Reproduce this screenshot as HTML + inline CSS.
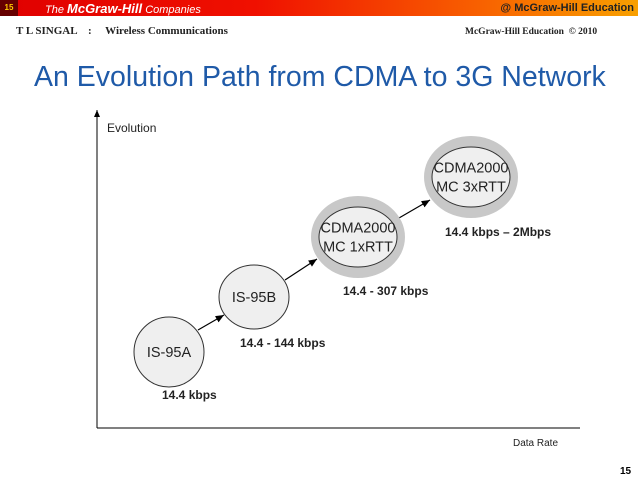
<!DOCTYPE html>
<html><head><meta charset="utf-8"><style>
body{margin:0;width:638px;height:478px;overflow:hidden;background:#fff;font-family:"Liberation Sans",sans-serif;position:relative}
.abs{position:absolute;white-space:nowrap}
</style></head><body>
<div class="abs" style="left:0;top:0;width:638px;height:16px;background:linear-gradient(90deg,#e00000 0%,#f01000 40%,#f86000 75%,#f8a000 100%)"></div>
<div class="abs" style="left:0;top:0;width:18px;height:16px;background:#600;color:#fc0;font-size:8px;line-height:16px;text-align:center;font-weight:bold">15</div>
<div class="abs" style="left:45px;top:1px;color:#fff;font-size:11px;font-style:italic">The <b style="font-size:13px">McGraw-Hill</b> Companies</div>
<div class="abs" style="right:4px;top:2px;color:#222;font-size:11px;font-weight:bold">@ McGraw-Hill Education</div>
<div class="abs" style="left:16px;top:25px;font-family:'Liberation Serif',serif;font-size:11px;font-weight:bold;color:#222">T L SINGAL &nbsp;&nbsp; : &nbsp;&nbsp;&nbsp; Wireless Communications</div>
<div class="abs" style="left:465px;top:27px;font-family:'Liberation Serif',serif;font-size:9.5px;font-weight:bold;color:#222">McGraw-Hill Education &nbsp;© 2010</div>
<div class="abs" style="left:34px;top:61px;font-size:28.5px;color:#1f5aa8">An Evolution Path from CDMA to 3G Network</div>
<div class="abs" style="left:620px;top:466px;font-size:10px;font-weight:bold">15</div>
<svg class="abs" style="left:0;top:0" width="638" height="478">
<defs><marker id="ah" markerWidth="8" markerHeight="8" refX="7" refY="4" orient="auto"><path d="M0,1 L7,4 L0,7z" fill="#000"/></marker></defs>
<line x1="97" y1="428" x2="97" y2="110" stroke="#000" stroke-width="1" marker-end="url(#ah)"/>
<line x1="97" y1="428" x2="580" y2="428" stroke="#000" stroke-width="1"/>
<text x="107" y="132" font-size="12" fill="#222">Evolution</text>
<text x="513" y="446" font-size="10" fill="#222">Data Rate</text>
<g id="nodes"></g>
</svg>
<script>
const names=[["IS-95A"],["IS-95B"],["CDMA2000","MC 1xRTT"],["CDMA2000","MC 3xRTT"]];
const rates=["14.4 kbps","14.4 - 144 kbps","14.4 - 307 kbps","14.4 kbps – 2Mbps"];
const cx=[169,254,358,471],cy=[352,297,237,177],rx=[35,35,39,39],ry=[35,32,30,30];
const ring=[false,false,true,true];
const lx=[162,240,343,445],ly=[399,347,295,236];
const arrows=[[198,330,224,315],[285,280,317,259],[399,218,430,200]];
const ns="http://www.w3.org/2000/svg",g=document.getElementById("nodes");
function mk(t,a){const e=document.createElementNS(ns,t);for(const k in a)e.setAttribute(k,a[k]);g.appendChild(e);return e;}
arrows.forEach(a=>{const l=mk("line",{x1:a[0],y1:a[1],x2:a[2],y2:a[3],stroke:"#000","stroke-width":1.2,"marker-end":"url(#ah)"});

});
names.forEach((n,i)=>{
 if(ring[i]){const r=mk("ellipse",{cx:cx[i],cy:cy[i],rx:rx[i]+8,ry:ry[i]+11,fill:"#c8c8c8"});
 
 }
 const e=mk("ellipse",{cx:cx[i],cy:cy[i],rx:rx[i],ry:ry[i],fill:"#efefef",stroke:"#333","stroke-width":1});
 
 
 n.forEach((s,j)=>{const t=mk("text",{x:cx[i],y:cy[i]+5+(j-(n.length-1)/2)*19,"font-size":14.5,"text-anchor":"middle",fill:"#222"});t.textContent=s;
 
 });
 const r=mk("text",{x:lx[i],y:ly[i],"font-size":12,"font-weight":"bold",fill:"#222"});r.textContent=rates[i];
 
 
});
</script>
</body></html>
